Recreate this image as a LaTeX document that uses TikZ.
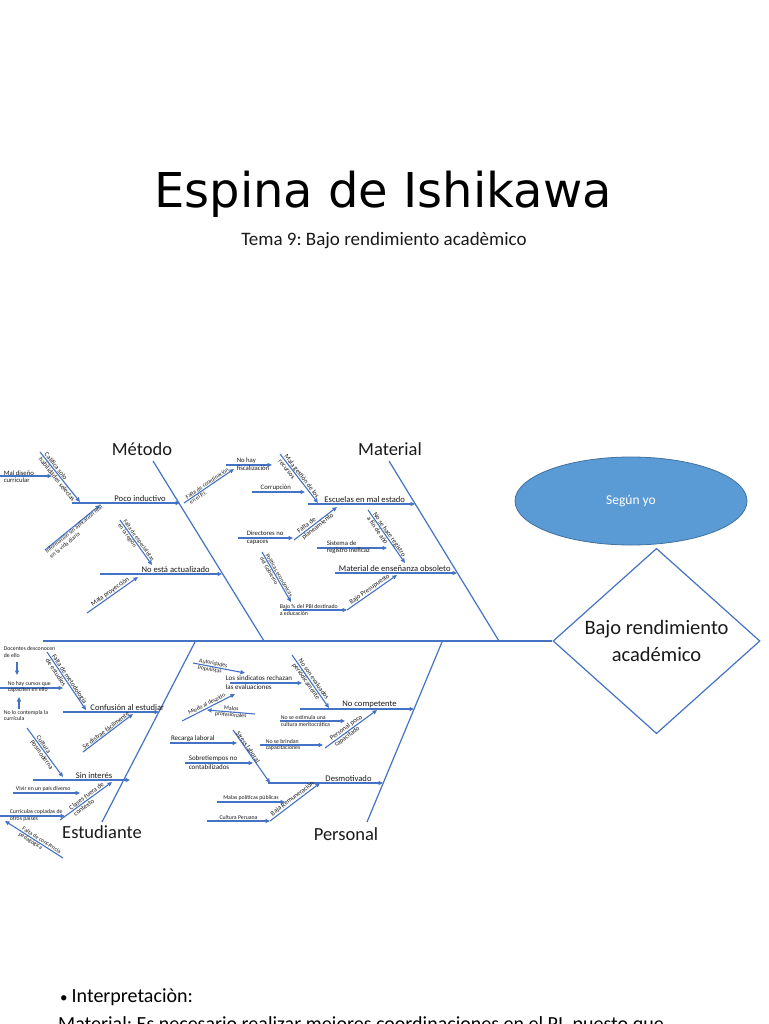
\documentclass[tikz,border=0pt]{standalone}
\usepackage{fontspec}
\setmainfont{Carlito}
\newfontfamily\titlefont{DejaVu Sans}
\usetikzlibrary{arrows.meta,shapes.geometric}
\definecolor{bl}{HTML}{4472C4}
\definecolor{ellfill}{HTML}{5B9BD5}
\definecolor{ellline}{HTML}{41719C}
\definecolor{txt}{HTML}{1A1A1A}
\frenchspacing
\tikzset{
  bone/.style={draw=bl, line width=1.2pt},
  arr/.style={draw=bl, line width=1.1pt, -{Triangle[length=4.5pt,width=4pt]}},
  small/.style={font=\fontsize{6.7}{7.5}\selectfont, text=txt, inner sep=0.6pt, align=left},
  tinyl/.style={font=\fontsize{5.8}{6.6}\selectfont, text=txt, inner sep=0.6pt, align=left},
  mid/.style={font=\fontsize{8.6}{9.5}\selectfont, text=txt, inner sep=1pt},
  cat/.style={font=\fontsize{18.5}{20}\selectfont, text=txt, inner sep=0pt},
}
\begin{document}
\begin{tikzpicture}[x=1pt,y=-1pt]
\fill[white] (0,0) rectangle (768,1024);
\useasboundingbox (0,0) rectangle (768,1024);
\begin{scope}
\clip (0,0) rectangle (768,1024);
% titles
\node[anchor=base, font=\titlefont\fontsize{48}{50}\selectfont, text=black] (title) at (383,208) {Espina de Ishikawa};
\node[anchor=base, font=\fontsize{19}{22}\selectfont, text=txt] (subtitle) at (384,245) {Tema 9: Bajo rendimiento acadèmico};
\node[anchor=base west, font=\fontsize{20}{24}\selectfont, text=black, inner sep=0] (interp) at (60,1002) {{\fontsize{15}{15}\selectfont •}\hspace{4pt}Interpretaciòn:};
\node[anchor=base west, font=\fontsize{20}{24}\selectfont, text=black, inner sep=0] (matext) at (58,1030) {Material: Es necesario realizar mejores coordinaciones en el PI, puesto que};
\end{scope}
% effect and note
\node[diamond, draw=bl, line width=1.2pt, minimum width=207pt, minimum height=159pt, inner sep=0pt, align=center, font=\fontsize{20.5}{27}\selectfont, text=txt] (goal) at (656.5,641) {Bajo rendimiento\\académico};
\node[ellipse, fill=ellfill, draw=ellline, line width=0.8pt, minimum width=232pt, minimum height=88pt, font=\fontsize{13.5}{15}\selectfont, text=white] (segun) at (631,501) {Según yo};
% spine and bones
\coordinate (sp0) at (43,641);
\draw[bone] (sp0) -- (goal.west);
\coordinate (mt) at (153,461); \coordinate (mb) at (264,641);
\coordinate (Mt) at (389,461); \coordinate (Mb) at (499,641);
\coordinate (et) at (195,642); \coordinate (eb) at (102,822);
\coordinate (pt) at (442,642); \coordinate (pb) at (367,822);
\draw[bone] (mt) -- (mb);
\draw[bone] (Mt) -- (Mb);
\draw[bone] (et) -- (eb);
\draw[bone] (pt) -- (pb);
\node[cat] (metodo) at (142,449) {Método};
\node[cat] (material) at (390,449) {Material};
\node[cat] (estudiante) at (102,832) {Estudiante};
\node[cat] (personal) at (346,834) {Personal};
% ---------- Metodo ----------
\coordinate (md1) at (0,476); \coordinate (md2) at (52,476);
\draw[arr] (md1) -- (md2);
\node[small, anchor=west] (mdl) at (3,476.5) {Mal diseño\\curricular};
\coordinate (cs1) at (40,452); \coordinate (cs2) at (80,502);
\draw[arr] (cs1) -- node[small, sloped] (csl) {Califica solo\\habilidades selectas} (cs2);
\coordinate (pi1) at (72,503); \coordinate (pi2) at (180,503);
\draw[arr] (pi1) -- node[mid, above, pos=0.63] (pil) {Poco inductivo} (pi2);
\coordinate (in1) at (45,550); \coordinate (in2) at (100,505);
\draw[arr] (in1) -- node[tinyl, sloped, below=-1pt] (inl) {Información sin aplicación real\\en la vida diaria} (in2);
\coordinate (fe1) at (120,520); \coordinate (fe2) at (152,565);
\draw[arr] (fe1) -- node[tinyl, sloped] (fel) {Falta de especialistas\\en la región} (fe2);
\coordinate (na1) at (100,574); \coordinate (na2) at (222,574);
\draw[arr] (na1) -- node[mid, above, pos=0.62] (nal) {No está actualizado} (na2);
\coordinate (mp1) at (87,613); \coordinate (mp2) at (138,577);
\draw[arr] (mp1) -- node[small, sloped, above] (mpl) {Mala proyección} (mp2);
% ---------- Material ----------
\coordinate (fc1) at (184,503); \coordinate (fc2) at (234,469);
\draw[arr] (fc1) -- node[tinyl, sloped] (fcl) {Falta de coordinación\\en el P.I.} (fc2);
\coordinate (nf1) at (226,465); \coordinate (nf2) at (272,465);
\draw[arr] (nf1) -- (nf2);
\node[small, anchor=west] (nfl) at (236,464) {No hay\\fiscalización};
\coordinate (mg1) at (280,454); \coordinate (mg2) at (318,503);
\draw[arr] (mg1) -- node[small, sloped] (mgl) {Mala gestión de los\\recursos} (mg2);
\coordinate (co1) at (252,492); \coordinate (co2) at (305,492);
\draw[arr] (co1) -- node[small, above, pos=0.45] (col) {Corrupción} (co2);
\coordinate (es1) at (308,504); \coordinate (es2) at (415,504);
\draw[arr] (es1) -- node[mid, above, pos=0.53] (esl) {Escuelas en mal estado} (es2);
\coordinate (dc1) at (238,538); \coordinate (dc2) at (293,538);
\draw[arr] (dc1) -- (dc2);
\node[small, anchor=west] (dcl) at (246,537.5) {Directores no\\capaces};
\coordinate (fp1) at (294,540); \coordinate (fp2) at (337,507);
\draw[arr] (fp1) -- node[small, sloped] (fpl) {Falta de\\planeamiento} (fp2);
\coordinate (nr1) at (368,510); \coordinate (nr2) at (405,563);
\draw[arr] (nr1) -- node[small, sloped] (nrl) {No se hace registro\\a fin de año} (nr2);
\coordinate (sr1) at (317,548); \coordinate (sr2) at (387,548);
\draw[arr] (sr1) -- (sr2);
\node[small, anchor=west] (srl) at (326,547) {Sistema de\\registro ineficaz};
\coordinate (me1) at (335,573); \coordinate (me2) at (457,573);
\draw[arr] (me1) -- node[mid, above, pos=0.49] (mel) {Material de enseñanza obsoleto} (me2);
\coordinate (pe1) at (262,552); \coordinate (pe2) at (291,602);
\draw[arr] (pe1) -- node[tinyl, sloped] (pel) {Políticas económicas\\del Gobierno} (pe2);
\coordinate (bp1) at (283,610); \coordinate (bp2) at (347,610);
\draw[arr] (bp1) -- (bp2);
\node[tinyl, anchor=west] (bpl) at (279,610) {Bajo \% del PBI destinado\\a educación};
\coordinate (bq1) at (347,610); \coordinate (bq2) at (397,575);
\draw[arr] (bq1) -- node[small, sloped, above] (bql) {Bajo Presupuesto} (bq2);
% ---------- Estudiante ----------
\node[tinyl, anchor=west] (docl) at (3,652) {Docentes desconocen\\de ello};
\coordinate (dd1) at (17,662); \coordinate (dd2) at (17,675);
\draw[arr] (dd1) -- (dd2);
\coordinate (nc1) at (0,688); \coordinate (nc2) at (63,688);
\draw[arr] (nc1) -- (nc2);
\node[tinyl, anchor=west] (ncl) at (7,687) {No hay cursos que\\capaciten en ello};
\node[tinyl, anchor=west] (nlcl) at (3,715.5) {No lo contempla la\\currícula};
\coordinate (ncc1) at (19,709); \coordinate (ncc2) at (19,697);
\draw[arr] (ncc1) -- (ncc2);
\coordinate (fm1) at (47,652); \coordinate (fm2) at (86,710);
\draw[arr] (fm1) -- node[small, sloped] (fml) {Falta de metodología\\de estudios} (fm2);
\coordinate (ce1) at (63,712); \coordinate (ce2) at (159,712);
\draw[arr] (ce1) -- node[mid, above, pos=0.67] (cel) {Confusión al estudiar} (ce2);
\coordinate (sd1) at (83,752); \coordinate (sd2) at (133,714);
\draw[arr] (sd1) -- node[small, sloped, above] (sdl) {Se distrae fácilmente} (sd2);
\coordinate (cp1) at (27,728); \coordinate (cp2) at (63,777);
\draw[arr] (cp1) -- node[small, sloped] (cpl) {Cultura\\Posmoderna} (cp2);
\coordinate (si1) at (33,780); \coordinate (si2) at (130,780);
\draw[arr] (si1) -- node[mid, above, pos=0.63] (sil) {Sin interés} (si2);
\coordinate (vp1) at (13,793); \coordinate (vp2) at (80,793);
\draw[arr] (vp1) -- node[tinyl, above, pos=0.45] (vpl) {Vivir en un país diverso} (vp2);
\coordinate (cc1) at (0,816); \coordinate (cc2) at (65,816);
\draw[arr] (cc1) -- (cc2);
\node[tinyl, anchor=west] (ccl) at (9,815.5) {Currículas copiadas de\\otros países};
\coordinate (cf1) at (60,820); \coordinate (cf2) at (112,782);
\draw[arr] (cf1) -- node[small, sloped, pos=0.55] (cfl) {Clases fuera de\\contexto} (cf2);
\coordinate (fk1) at (63,858); \coordinate (fk2) at (5,821);
\draw[arr] (fk1) -- node[tinyl, sloped, pos=0.4] (fkl) {Falta de conciencia\\pedagógica} (fk2);
% ---------- Personal ----------
\coordinate (ap1) at (193,663); \coordinate (ap2) at (245,673);
\draw[arr] (ap1) -- node[tinyl, sloped, pos=0.38] (apl) {Autoridades\\populistas} (ap2);
\coordinate (ls1) at (230,683); \coordinate (ls2) at (302,683);
\draw[arr] (ls1) -- (ls2);
\node[small, anchor=west, font=\fontsize{7}{8.5}\selectfont] (lsl) at (225,682.5) {Los sindicatos rechazan\\las evaluaciones};
\coordinate (ne1) at (292,655); \coordinate (ne2) at (329,708);
\draw[arr] (ne1) -- node[small, sloped] (nel) {No son evaluados\\periódicamente} (ne2);
\coordinate (nco1) at (300,709); \coordinate (nco2) at (414,709);
\draw[arr] (nco1) -- node[mid, above, pos=0.61] (ncol) {No competente} (nco2);
\coordinate (md3) at (182,721); \coordinate (md4) at (235,694);
\draw[arr] (md3) -- node[tinyl, sloped, above] (mdsl) {Miedo al despido} (md4);
\coordinate (mpr1) at (255,714); \coordinate (mpr2) at (207,710);
\draw[arr] (mpr1) -- node[tinyl, sloped, align=center] (mprl) {Malos\\profesionales} (mpr2);
\coordinate (nse1) at (280,721); \coordinate (nse2) at (345,721);
\draw[arr] (nse1) -- (nse2);
\node[tinyl, anchor=west] (nsel) at (280,721) {No se estimula una\\cultura meritocrática};
\coordinate (ppc1) at (325,748); \coordinate (ppc2) at (377,710);
\draw[arr] (ppc1) -- node[small, sloped, pos=0.45] (ppcl) {Personal poco\\capacitado} (ppc2);
\coordinate (rl1) at (170,743); \coordinate (rl2) at (237,743);
\draw[arr] (rl1) -- node[small, above, pos=0.34, font=\fontsize{7}{8}\selectfont] (rll) {Recarga laboral} (rl2);
\coordinate (sl1) at (233,730); \coordinate (sl2) at (270,783);
\draw[arr] (sl1) -- node[small, sloped, above=-1pt, pos=0.35] (sll) {Stress laboral} (sl2);
\coordinate (nb1) at (260,745); \coordinate (nb2) at (323,745);
\draw[arr] (nb1) -- (nb2);
\node[tinyl, anchor=west] (nbl) at (265,745) {No se brindan\\capacitaciones};
\coordinate (so1) at (185,763); \coordinate (so2) at (253,763);
\draw[arr] (so1) -- (so2);
\node[small, anchor=west, font=\fontsize{7}{9}\selectfont] (sol) at (188,763) {Sobretiempos no\\contabilizados};
\coordinate (dm1) at (268,783); \coordinate (dm2) at (383,783);
\draw[arr] (dm1) -- node[mid, above, pos=0.7] (dml) {Desmotivado} (dm2);
\coordinate (mpp1) at (217,802); \coordinate (mpp2) at (285,802);
\draw[arr] (mpp1) -- node[tinyl, above, pos=0.5] (mppl) {Malas políticas públicas} (mpp2);
\coordinate (cpe1) at (207,821); \coordinate (cpe2) at (270,821);
\draw[arr] (cpe1) -- node[tinyl, above, pos=0.5] (cpel) {Cultura Peruana} (cpe2);
\coordinate (br1) at (270,821); \coordinate (br2) at (320,783);
\draw[arr] (br1) -- node[small, sloped, above] (brl) {Baja Remuneración} (br2);
\end{tikzpicture}
\end{document}
